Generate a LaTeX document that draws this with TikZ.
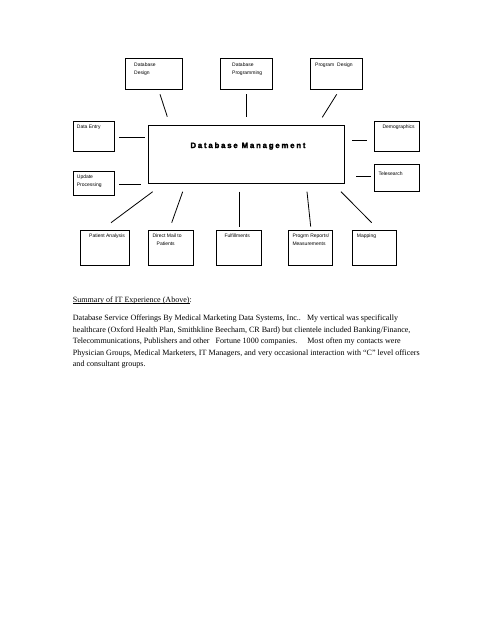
\documentclass[tikz,border=0pt]{standalone}
\usepackage{fontspec}
\setmainfont{Liberation Serif}
\newfontfamily\lblfont{Liberation Sans}
\newfontfamily\ttlfont[LetterSpace=23,FakeBold=2.5]{Liberation Sans Bold}
\usetikzlibrary{fit}
\newcommand{\mybox}[5]{%
  \coordinate (#1-tl) at (#2,#3);
  \coordinate (#1-br) at (#4,#5);
  \node[bx,fit=(#1-tl)(#1-br)] (#1) {};}
\newcommand{\myul}[1]{\setbox0\hbox{#1}\rlap{\rule[-0.9pt]{\wd0}{0.45pt}}\box0}
\begin{document}
\begin{tikzpicture}[x=1pt,y=-1pt,
  bx/.style={draw=black,line width=1pt,inner sep=0pt},
  cn/.style={draw=black,line width=0.8pt},
  lbl/.style={anchor=west,inner sep=0pt,font=\lblfont\fontsize{5}{8}\selectfont,align=left},
  para/.style={anchor=base west,inner sep=0pt,font=\fontsize{8.05}{11.5}\selectfont}]
\useasboundingbox (0,0) rectangle (495,640);
% top boxes
\mybox{dd}{125.7}{58.3}{182}{89}
\mybox{dp}{220.3}{58.3}{272.3}{89}
\mybox{pd}{310}{58.3}{362.7}{89}
% side boxes
\mybox{de}{73.3}{121}{114.3}{151}
\mybox{up}{73.3}{171.7}{114.3}{195}
\mybox{dg}{374.3}{121}{419.3}{151}
\mybox{ts}{374.3}{164}{419.3}{191}
% main box
\mybox{main}{148.3}{125}{344.3}{183}
% bottom boxes
\mybox{pa}{80.7}{230.7}{129.3}{265}
\mybox{dm}{148.3}{230.7}{193.3}{265}
\mybox{fu}{216.7}{230.7}{261.3}{265}
\mybox{pr}{288.3}{230.7}{332.7}{265}
\mybox{ma}{352.3}{230.7}{396.7}{265}
% labels
\node[lbl] (t-dd) at (134,69) {Database\\Design};
\node[lbl] (t-dp) at (232,69) {Database\\Programming};
\node[lbl] (t-pd) at (315,65) {Program\ \ Design};
\node[lbl] (t-de) at (76.7,127) {Data Entry};
\node[lbl] (t-up) at (76.7,181.7) {Update\\Processing};
\node[lbl] (t-dg) at (382.3,127) {Demographics};
\node[lbl] (t-ts) at (378.3,174) {Telesearch};
\node[lbl] (t-pa) at (89,236) {Patient Analysis};
\node[lbl] (t-dm) at (152.3,240.2) {Direct Mail to\\\ \ \ Patients};
\node[lbl] (t-fu) at (224.3,236) {Fulfillments};
\node[lbl] (t-pr) at (292.3,240.2) {Progrm Reports/\\Measurements};
\node[lbl] (t-ma) at (356.7,236) {Mapping};
\node[inner sep=0pt,font=\ttlfont\fontsize{7.8}{8}\selectfont] (t-main) at (248,146) {Database Management};
% connectors (free floating)
\coordinate (c1a) at (160,94.3);   \coordinate (c1b) at (167.3,116.7);
\coordinate (c2a) at (246.7,94.3); \coordinate (c2b) at (246.7,116.7);
\coordinate (c3a) at (336.7,94.3); \coordinate (c3b) at (322.3,117.3);
\coordinate (c4a) at (119.3,137);  \coordinate (c4b) at (145,137);
\coordinate (c5a) at (119.3,184);  \coordinate (c5b) at (141,184);
\coordinate (c6a) at (352.3,140);  \coordinate (c6b) at (367.3,140);
\coordinate (c7a) at (356.3,176);  \coordinate (c7b) at (370.7,176);
\coordinate (c8a) at (152.7,191.7); \coordinate (c8b) at (111,222.7);
\coordinate (c9a) at (182.7,191.7); \coordinate (c9b) at (171.7,222.7);
\coordinate (c10a) at (239.3,191.7); \coordinate (c10b) at (239.3,226.7);
\coordinate (c11a) at (307,191.7); \coordinate (c11b) at (310.7,226.7);
\coordinate (c12a) at (341,191.7); \coordinate (c12b) at (371.7,222.7);
\foreach \i in {1,...,12} {\draw[cn] (c\i a) -- (c\i b);}
% text
\node[para] (sum) at (72.7,302.7) {\myul{Summary of IT Experience (Above)}:};
\node[para] (p1) at (72.7,320.7) {Database Service Offerings By Medical Marketing Data Systems, Inc..\ \ \ My vertical was specifically};
\node[para] (p2) at (72.7,332.2) {healthcare (Oxford Health Plan, Smithkline Beecham, CR Bard) but clientele included Banking/Finance,};
\node[para] (p3) at (72.7,343.7) {Telecommunications, Publishers and other\ \ \ Fortune 1000 companies.\ \ \ \ \ Most often my contacts were};
\node[para] (p4) at (72.7,355.2) {Physician Groups, Medical Marketers, IT Managers, and very occasional interaction with “C” level officers};
\node[para] (p5) at (72.7,366.7) {and consultant groups.};
\end{tikzpicture}
\end{document}
